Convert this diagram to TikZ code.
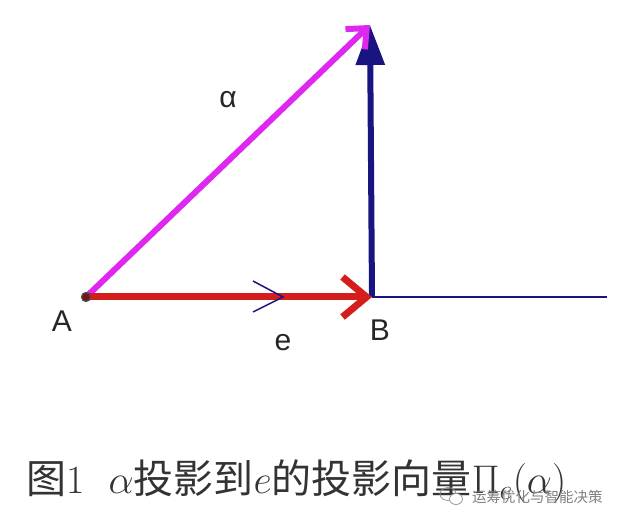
\RequirePackage{fix-cm}
\documentclass[tikz,border=0pt]{standalone}
\usepackage{fontspec}
\usepackage{amsmath}
\setsansfont{Liberation Sans}
\newfontfamily\cjkfont{Noto Sans CJK SC}
\usetikzlibrary{arrows.meta}
\definecolor{vecmag}{RGB}{222,40,240}
\definecolor{vecred}{RGB}{212,30,30}
\definecolor{vecnavy}{RGB}{26,20,128}
\definecolor{dotred}{RGB}{120,20,20}

\begin{document}
\begin{tikzpicture}[x=1pt,y=-1pt,
    lbl/.style={font=\sffamily\fontsize{30}{30}\selectfont, text=black!85},
    magvec/.style={vecmag, line width=6, -{Straight Barb[length=16, width=28]}},
    redvec/.style={vecred, line width=7, -{Straight Barb[length=24, width=40]}},
    bluevec/.style={vecnavy, line width=6, -{Triangle[length=40, width=28]}}]
    \useasboundingbox (0,0) rectangle (625,524);
    % points
    \coordinate (A) at (86,297);
    \coordinate (B) at (372,297);
    \coordinate (T) at (370,25);
    \coordinate (E) at (607,297);
    \coordinate (M) at (283,297);
    % vectors
    \draw[vecnavy, line width=2] (B) -- (E);
    \draw[bluevec] (B) -- (T);
    \draw[magvec] (A) -- (T);
    \draw[redvec] (A) -- (B);
    \draw[vecnavy, line width=1.5] ([xshift=-30, yshift=-15]M) -- (M) -- ([xshift=-30, yshift=16]M);
    \filldraw[fill=dotred, draw=black!70, line width=1.2] (A) circle (4.5);
    % labels
    \node[lbl] (alpha) at (228,100) {α};
    \node[lbl] (labA) at (62,321) {A};
    \node[lbl] (labe) at (283,343) {e};
    \node[lbl] (labB) at (380,330) {B};
    % caption
    \node[anchor=west, inner sep=0, text=black!80, font=\cjkfont\fontsize{40}{46}\selectfont] (cap) at (26,482)
        {图{\rmfamily 1}\hspace{24pt}$\alpha$投影到$e$的投影向量$\Pi_e(\alpha)$};
    % watermark
    \draw[black!40, line width=0.8] (448,494) ellipse (8 and 6.5);
    \draw[black!40, line width=0.8, fill=white] (456,499) ellipse (6.5 and 5.5);
    \node[anchor=west, inner sep=0, text=black!50, font=\cjkfont\fontsize{14.5}{15}\selectfont] (mark) at (472,497) {运筹优化与智能决策};
\end{tikzpicture}
\end{document}
